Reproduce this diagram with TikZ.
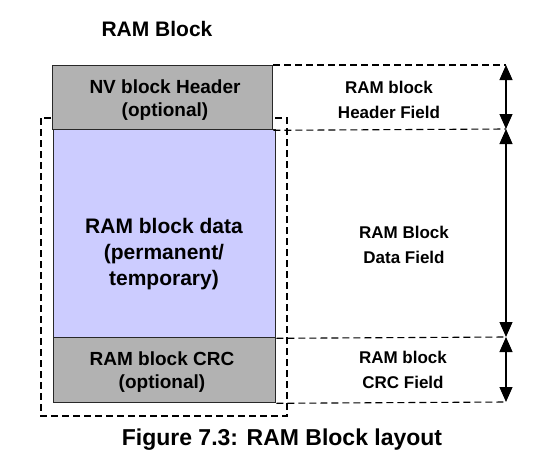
\documentclass[tikz,border=0pt]{standalone}
\usepackage{fontspec}
\setmainfont{Liberation Sans}
\usetikzlibrary{arrows.meta}
\definecolor{boxgray}{RGB}{178,178,178}
\definecolor{lav}{RGB}{204,204,255}
\definecolor{edge}{RGB}{40,40,40}
\begin{document}
\begin{tikzpicture}[x=1pt,y=-1pt,
  blk/.style={draw=edge,line width=1.3pt,inner sep=0pt,anchor=north west},
  dsh/.style={draw=black,line width=1.1pt,dash pattern=on 7pt off 4pt},
  dbl/.style={line width=1.2pt,{Triangle[width=13pt,length=15pt]}-{Triangle[width=13pt,length=15pt]}},
  txt/.style={font=\bfseries\fontsize{19}{23}\selectfont,align=center,inner sep=0pt},
  rtxt/.style={font=\bfseries\fontsize{17}{24.5}\selectfont,align=center,inner sep=0pt}]
\useasboundingbox (0,0) rectangle (542,469);
% outer dashed rectangle
\draw[dsh] (41,118) rectangle (287,416);
% blocks
\node[blk,fill=boxgray,minimum width=220pt,minimum height=64pt] (hdr) at (52,65) {};
\node[blk,fill=lav,minimum width=222pt,minimum height=208pt] (data) at (53,129) {};
\node[blk,fill=boxgray,minimum width=222pt,minimum height=65pt] (crc) at (53,337) {};
% texts in blocks
\node[txt] (thdr) at (165,100) {NV block Header\\(optional)};
\node[txt,font=\bfseries\fontsize{21}{26}\selectfont] (tdata) at (164,254) {RAM block data\\(permanent/\\temporary)};
\node[txt] (tcrc) at (162,372) {RAM block CRC\\(optional)};
% right coordinates
\coordinate (r1) at (506,65);
\coordinate (r2) at (506,129);
\coordinate (r3) at (506,337);
\coordinate (r4) at (506,402);
% dashed extension lines
\draw[dsh] (hdr.north east) -- (r1);
\draw[dsh] (hdr.south east) -- (r2);
\draw[dsh] (data.south east) -- (r3);
\draw[dsh] (crc.south east) -- (r4);
% arrows
\draw[dbl] (r1) -- (r2);
\draw[dbl] (r2) -- (r3);
\draw[dbl] (r3) -- (r4);
% right labels
\node[rtxt] (lhdr) at (389,100) {RAM block\\Header Field};
\node[rtxt] (ldata) at (404,245) {RAM Block\\Data Field};
\node[rtxt] (lcrc) at (403,370) {RAM block\\CRC Field};
% title and caption
\node[font=\bfseries\fontsize{21}{24}\selectfont,inner sep=0pt] (title) at (157,29) {RAM Block};
\node[font=\bfseries\fontsize{23}{26}\selectfont,inner sep=0pt] (cap) at (282,440) {Figure 7.3: RAM Block layout};
\end{tikzpicture}
\end{document}
